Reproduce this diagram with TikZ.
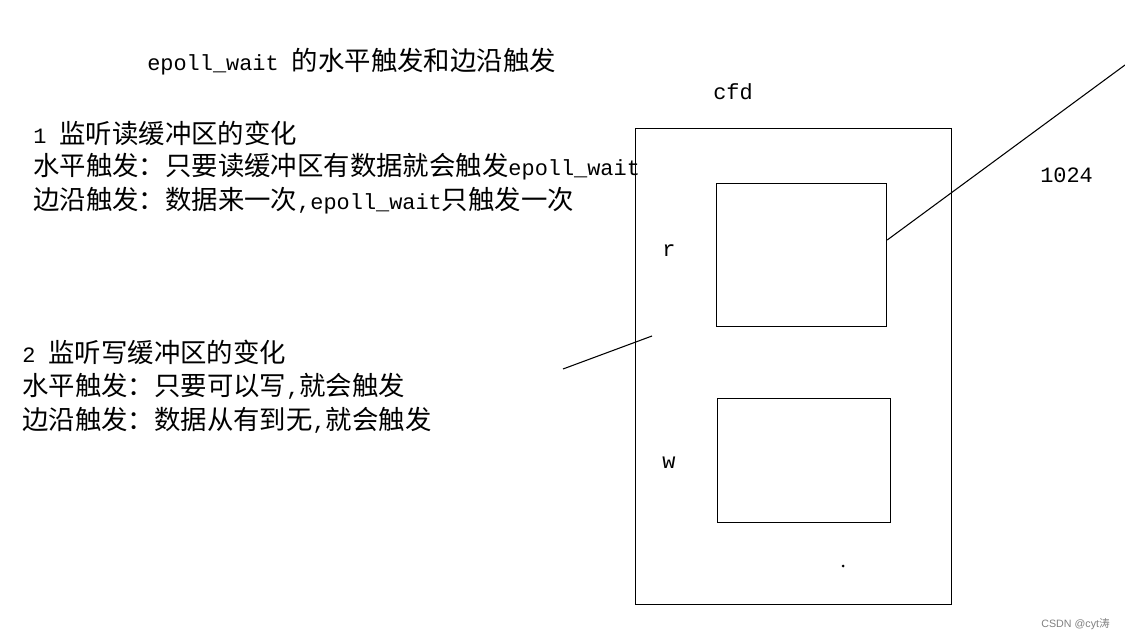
\documentclass[tikz,border=0pt]{standalone}
\usepackage{fontspec}
\setmainfont{Liberation Mono}[Scale=0.83]
\newfontfamily\cjk{Noto Sans CJK SC}
\newfontfamily\sansf{Liberation Sans}
\newcommand{\C}[1]{{\cjk #1}}
\begin{document}
\begin{tikzpicture}[x=0.75pt,y=-0.75pt,
  txt/.style={anchor=west,inner sep=0pt,font=\fontsize{19.8}{22}\selectfont},
  box/.style={draw,line width=0.9pt}]
\useasboundingbox (0,0) rectangle (1125,641);
\fill[white] (0,0) rectangle (1125,641);
\node[txt] (title) at (147,62) {epoll\_wait \C{的水平触发和边沿触发}};
\node[txt] (cfd) at (713,92) {cfd};
\node[txt] (a1) at (33,133) {1 \C{监听读缓冲区的变化}};
\node[txt] (a2) at (33,167) {\C{水平触发：只要读缓冲区有数据就会触发}epoll\_wait};
\node[txt] (a3) at (33,201) {\C{边沿触发：数据来一次},epoll\_wait\C{只触发一次}};
\node[txt] (b1) at (22,352) {2 \C{监听写缓冲区的变化}};
\node[txt] (b2) at (22,386) {\C{水平触发：只要可以写},\C{就会触发}};
\node[txt] (b3) at (22,420) {\C{边沿触发：数据从有到无},\C{就会触发}};
\node[box,minimum width=316*0.75pt,minimum height=476*0.75pt,anchor=north west,inner sep=0pt] (outer) at (635,128) {};
\node[box,minimum width=170*0.75pt,minimum height=143*0.75pt,anchor=north west,inner sep=0pt] (rb) at (716,183) {};
\node[box,minimum width=173*0.75pt,minimum height=124*0.75pt,anchor=north west,inner sep=0pt] (wb) at (717,398) {};
\node[txt] (r) at (662,251) {r};
\node[txt] (w) at (662,463) {w};
\node[txt] (n1024) at (1040,175) {1024};
\coordinate (e1) at (1125,65);
\coordinate (s2) at (563,369);
\coordinate (e2) at (652,336);
\draw[line width=0.8pt] (rb.east |- 0,240) -- (e1);
\draw[line width=0.8pt] (s2) -- (e2);
\fill (843,566) circle (1.5);
\node[anchor=east,inner sep=0pt,text=gray,font=\sansf\fontsize{8}{9}\selectfont] (csdn) at (1110,624) {CSDN @cyt\C{涛}};
\end{tikzpicture}
\end{document}
